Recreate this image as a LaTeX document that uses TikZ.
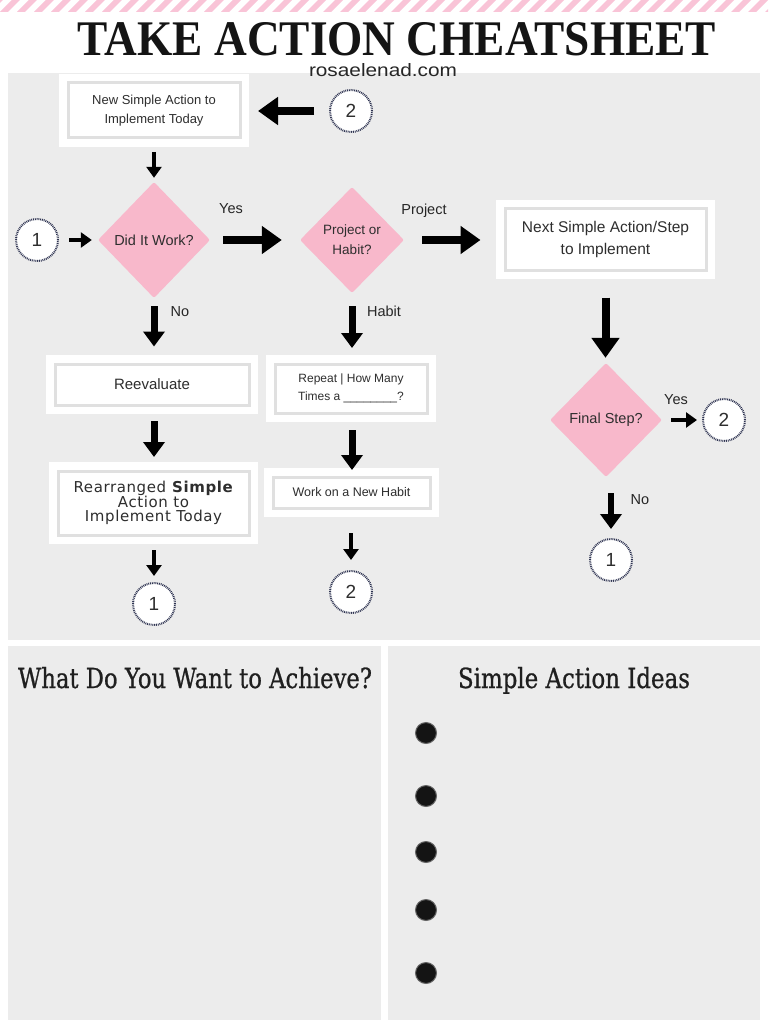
\documentclass[tikz,border=0pt]{standalone}
\usepackage{fontspec}
\usepackage{graphicx}
\setmainfont{Liberation Sans}
\newfontfamily\titlefont{Liberation Serif}
\newfontface\slabfont[FakeBold=0.9]{DejaVu Serif}
\newfontfamily\widefont[LetterSpace=4]{DejaVu Sans}
\usetikzlibrary{shapes.geometric,arrows.meta}
\definecolor{panel}{HTML}{ECECEC}
\definecolor{pinkd}{HTML}{F8B8CB}
\definecolor{stripe}{HTML}{F9C4D7}
\definecolor{framec}{HTML}{E0E0E0}
\definecolor{ink}{HTML}{2E2E2E}
\definecolor{dotc}{HTML}{2F3452}
\begin{document}
\begin{tikzpicture}[x=1pt,y=-1pt,
  box/.style={draw=framec, line width=3pt, fill=white, preaction={draw=white, line width=18pt},
    align=center, text=ink, inner sep=2pt},
  dia/.style={diamond, fill=pinkd, inner sep=0pt, align=center, text=ink, rounded corners=2pt},
  circ/.style={circle, fill=white, draw=dotc, line width=2pt, dash pattern=on 0.9pt off 0.9pt,
    minimum size=42pt, inner sep=0pt, text=ink, font=\fontsize{19}{19}\selectfont},
  lbl/.style={text=black!85, font=\fontsize{14.5}{15}\selectfont, inner sep=0pt},
  thickarr/.style={line width=8pt, -{Triangle[width=27pt,length=20pt]}},
  medarr/.style={line width=7pt, -{Triangle[width=21pt,length=15pt]}},
  thinarr/.style={line width=4.5pt, -{Triangle[width=15pt,length=11pt]}},
  bullet/.style={circle, fill=black!92, draw=black!60, line width=1pt, minimum width=20pt, minimum height=21pt, inner sep=0pt}
]
\useasboundingbox (0,0) rectangle (768,1024);
\fill[white] (0,0) rectangle (768,1024);
% stripes
\begin{scope}
\clip (0,0) rectangle (768,12);
\foreach \i in {-2,...,48} {
  \fill[stripe] ({\i*17},12) -- ({\i*17+8},12) -- ({\i*17+20},0) -- ({\i*17+12},0) -- cycle;
}
\end{scope}
% panels
\fill[panel] (8,73) rectangle (760,640);
\fill[panel] (8,646) rectangle (381,1020);
\fill[panel] (388,646) rectangle (760,1020);
% title
\node[text=black!92, inner sep=0pt] (title) at (397,39.5) {\resizebox{638pt}{33pt}{\titlefont\bfseries TAKE ACTION CHEATSHEET}};
\node[text=black!85, inner sep=0pt, anchor=base] (site) at (383,77) {\resizebox{148pt}{13pt}{\fontsize{20}{20}\selectfont rosaelenad.com}};

% nodes
\node[box, minimum width=172pt, minimum height=55pt, font=\fontsize{13}{19}\selectfont] (b1) at (154,110.5) {New Simple Action to\\Implement Today};
\node[circ] (c2a) at (351,111) {2};
\node[circ] (c1) at (37,240) {1};
\node[dia, minimum width=112pt, minimum height=116pt, font=\fontsize{14.5}{18}\selectfont] (d1) at (154,240) {Did It Work?};
\node[dia, minimum width=104pt, minimum height=106pt, font=\fontsize{13.5}{20}\selectfont] (d2) at (352,240) {Project or\\Habit?};
\node[box, minimum width=201pt, minimum height=61pt, font=\fontsize{15.5}{22}\selectfont] (b2) at (605.5,239.5) {Next Simple Action/Step\\to Implement};
\node[dia, minimum width=112pt, minimum height=114pt, font=\fontsize{14.5}{18}\selectfont] (d3) at (606,420) {Final Step?};
\node[circ] (c2c) at (724,420) {2};
\node[circ] (c1c) at (611,560) {1};
\node[box, minimum width=194pt, minimum height=41pt, font=\fontsize{15}{18}\selectfont] (re) at (152,384.5) {Reevaluate};
\node[box, minimum width=191pt, minimum height=64pt, font=\widefont\fontsize{15}{14}\selectfont] (ra) at (153.5,503) {Rearranged \textbf{Simple}\\Action to\\Implement Today};
\node[circ] (c1b) at (154,604) {1};
\node[box, minimum width=152pt, minimum height=49pt, font=\fontsize{12}{18}\selectfont] (rp) at (351,388.5) {Repeat | How Many\\Times a \_\_\_\_\_\_\_\_?};
\node[box, minimum width=157pt, minimum height=31pt, font=\fontsize{12.5}{15}\selectfont] (wk) at (351.5,492.5) {Work on a New Habit};
\node[circ] (c2b) at (351,592) {2};

% labels
\node[lbl] (yes1) at (231,209) {Yes};
\node[lbl] (proj) at (424,211) {Project};
\node[lbl] (no1) at (180,312) {No};
\node[lbl] (habit) at (384,311) {Habit};
\node[lbl] (yes2) at (676,400) {Yes};
\node[lbl] (no2) at (640,500) {No};

% arrows
\draw[thickarr, shorten <=15pt, shorten >=16.5pt] (c2a.west) -- (c2a.west -| b1.east);
\draw[thinarr, shorten <=12.5pt, shorten >=4pt] (b1.south) -- (d1.north);
\draw[thinarr, shorten <=10pt, shorten >=6pt] (c1.east) -- (d1.west);
\draw[thickarr, shorten <=13pt, shorten >=18pt] (d1.east) -- (d2.west);
\draw[thickarr, shorten <=18pt, shorten >=23pt] (d2.east) -- (d2.east -| b2.west);
\draw[thickarr, shorten <=26pt, shorten >=5pt] (b2.south) -- (b2.south |- d3.north);
\draw[medarr, shorten <=8pt, shorten >=16pt] (d1.south) -- (d1.south |- re.north);
\draw[medarr, shorten <=14.5pt, shorten >=12.5pt] (re.south -| d1.south) -- (ra.north -| d1.south);
\draw[thinarr, shorten <=13.5pt, shorten >=6pt] (ra.south -| c1b.north) -- (c1b.north);
\draw[medarr, shorten <=13pt, shorten >=14.5pt] (d2.south) -- (d2.south |- rp.north);
\draw[medarr, shorten <=15.5pt, shorten >=5.5pt] (rp.south -| d2.south) -- (wk.north -| d2.south);
\draw[thinarr, shorten <=23.5pt, shorten >=10pt] (wk.south -| c2b.north) -- (c2b.north);
\draw[thinarr, shorten <=9pt, shorten >=5pt] (d3.east) -- (c2c.west);
\draw[medarr, line width=6pt, shorten <=16pt, shorten >=9pt] (c1c.north |- d3.south) -- (c1c.north);

% bottom headings
\node[text=black!88, inner sep=0pt, anchor=base] (h1) at (195,688) {\resizebox{354pt}{21pt}{\slabfont What Do You Want to Achieve?}};
\node[text=black!88, inner sep=0pt, anchor=base] (h2) at (574,688) {\resizebox{232pt}{21pt}{\slabfont Simple Action Ideas}};
% bullets
\node[bullet] (p1) at (426,733) {};
\node[bullet] (p2) at (426,796) {};
\node[bullet] (p3) at (426,852) {};
\node[bullet] (p4) at (426,910) {};
\node[bullet] (p5) at (426,973) {};
\end{tikzpicture}
\end{document}
